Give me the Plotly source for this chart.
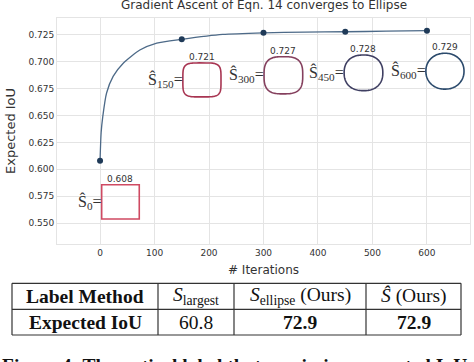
import numpy as np
import plotly.graph_objects as go

W, H = 474, 362

# ---------------- data ----------------
curve_iters = [0, 2, 5, 12, 24, 43, 73, 104, 150, 225, 300, 375, 450, 525, 600]
curve_iou = [0.608, 0.634, 0.649, 0.671, 0.6865, 0.699, 0.711, 0.7175, 0.721,
             0.7255, 0.727, 0.7277, 0.728, 0.7285, 0.729]
ckpt_iters = [0, 150, 300, 450, 600]
ckpt_iou = [0.608, 0.721, 0.727, 0.728, 0.729]
ckpt_labels = ["0", "150", "300", "450", "600"]

x_ticks = [0, 100, 200, 300, 400, 500, 600]
y_ticks = [0.550, 0.575, 0.600, 0.625, 0.650, 0.675, 0.700, 0.725]

title_text = "Gradient Ascent of Eqn. 14 converges to Ellipse"
x_title = "# Iterations"
y_title = "Expected IoU"

table_header = ["<b>Label Method</b>", "<i>S</i><sub>largest</sub>",
                "<i>S</i><sub>ellipse</sub> (Ours)", "<i>Ŝ</i> (Ours)"]
table_row = ["<b>Expected IoU</b>", "60.8", "<b>72.9</b>", "<b>72.9</b>"]
caption = "<b>Figure 4: Theoretical label that maximizes expected IoU</b>"

# ---------------- layout helpers ----------------
L, R, T, B = 57, 470, 18, 244          # plot area in px
X_RANGE = [-79, 679]
Y_RANGE = [0.5305, 0.7408]


def px(x):
    return x / W


def py(y):
    return 1 - y / H


fig = go.Figure()

fig.add_trace(go.Scatter(
    x=curve_iters, y=curve_iou, mode="lines",
    line=dict(color="#4d6a88", width=1.3, shape="spline", smoothing=0.6),
    hoverinfo="skip", showlegend=False))
fig.add_trace(go.Scatter(
    x=ckpt_iters, y=ckpt_iou, mode="markers",
    marker=dict(color="#1f3a58", size=6), showlegend=False))

# ---------------- shape glyphs (superellipses) ----------------
glyph_boxes = [
    (3, 72, 0.5538, 0.5857, None, "#cf4a62"),
    (152, 222, 0.6674, 0.6990, 4.5, "#a83552"),
    (301, 372, 0.6702, 0.7048, 3.0, "#85405e"),
    (448, 519, 0.6732, 0.7064, 2.3, "#3f3f62"),
    (598, 668, 0.6746, 0.7080, 2.1, "#2b4a6c"),
]

shapes = []
annotations = []
t = np.linspace(0, 2 * np.pi, 120)
for (x0, x1, y0, y1, n, col), lab, val in zip(glyph_boxes, ckpt_labels, ckpt_iou):
    cx, cy = (x0 + x1) / 2, (y0 + y1) / 2
    a, b = (x1 - x0) / 2, (y1 - y0) / 2
    if n is None:
        shapes.append(dict(type="rect", xref="x", yref="y", x0=x0, x1=x1, y0=y0, y1=y1,
                           line=dict(color=col, width=1.6)))
    else:
        ct, st = np.cos(t), np.sin(t)
        xs = cx + a * np.sign(ct) * np.abs(ct) ** (2 / n)
        ys = cy + b * np.sign(st) * np.abs(st) ** (2 / n)
        path = "M " + " L ".join(f"{u:.3f},{v:.5f}" for u, v in zip(xs, ys)) + " Z"
        shapes.append(dict(type="path", xref="x", yref="y", path=path,
                           line=dict(color=col, width=1.6)))
    annotations.append(dict(x=cx, y=y1, xref="x", yref="y", text=f"{val:.3f}",
                            showarrow=False, xanchor="center", yanchor="bottom", yshift=-1,
                            font=dict(family="DejaVu Sans", size=9, color="#333")))
    annotations.append(dict(x=x0, y=cy, xref="x", yref="y",
                            text=f"Ŝ<sub>{lab}</sub>=",
                            showarrow=False, xanchor="right", yanchor="middle", xshift=2,
                            font=dict(family="Liberation Serif", size=16, color="#333")))

# ---------------- titles ----------------
annotations.append(dict(x=px((L + R) / 2), y=py(5), xref="paper", yref="paper",
                        text=title_text, showarrow=False, xanchor="center", yanchor="middle",
                        font=dict(family="DejaVu Sans", size=12, color="#333")))
annotations.append(dict(x=px(10), y=py((T + B) / 2), xref="paper", yref="paper",
                        text=y_title, showarrow=False, textangle=-90,
                        xanchor="center", yanchor="middle",
                        font=dict(family="DejaVu Sans", size=13, color="#333")))
annotations.append(dict(x=px((L + R) / 2), y=py(270), xref="paper", yref="paper",
                        text=x_title, showarrow=False, xanchor="center", yanchor="middle",
                        font=dict(family="DejaVu Sans", size=12, color="#333")))

# ---------------- table ----------------
col_edges = [12, 158, 234, 366, 461]
row_edges = [283.3, 309.3, 335]
for yv in row_edges:
    shapes.append(dict(type="line", xref="paper", yref="paper",
                       x0=px(col_edges[0]), x1=px(col_edges[-1]), y0=py(yv), y1=py(yv),
                       line=dict(color="#333", width=1.2)))
for xv in col_edges:
    shapes.append(dict(type="line", xref="paper", yref="paper",
                       x0=px(xv), x1=px(xv), y0=py(row_edges[0]), y1=py(row_edges[-1]),
                       line=dict(color="#333", width=1.2)))
for r, row in enumerate([table_header, table_row]):
    yc = (row_edges[r] + row_edges[r + 1]) / 2
    for c, txt in enumerate(row):
        xc = (col_edges[c] + col_edges[c + 1]) / 2
        annotations.append(dict(x=px(xc), y=py(yc), xref="paper", yref="paper",
                                text=txt, showarrow=False, xanchor="center", yanchor="middle",
                                font=dict(family="Liberation Serif", size=19.5, color="#111")))

annotations.append(dict(x=px(0), y=py(353), xref="paper", yref="paper",
                        text=caption, showarrow=False, xanchor="left", yanchor="top",
                        font=dict(family="Liberation Serif", size=19.5, color="#111")))

fig.update_layout(
    width=W, height=H, margin=dict(l=0, r=0, t=0, b=0),
    paper_bgcolor="white", plot_bgcolor="white",
    shapes=shapes, annotations=annotations, showlegend=False,
    xaxis=dict(domain=[px(L), px(R)], range=X_RANGE, tickvals=x_ticks,
               showgrid=True, gridcolor="#e4e4e4", gridwidth=1, zeroline=False,
               showline=True, linecolor="#e4e4e4", mirror=True, ticks="",
               tickfont=dict(family="DejaVu Sans", size=9, color="#333")),
    yaxis=dict(domain=[py(B), py(T)], range=Y_RANGE, tickvals=y_ticks, tickformat=".3f",
               showgrid=True, gridcolor="#e4e4e4", gridwidth=1, zeroline=False,
               showline=True, linecolor="#e4e4e4", mirror=True, ticks="",
               tickfont=dict(family="DejaVu Sans", size=9, color="#333")),
)

fig.write_html("out.html", config={"displayModeBar": False},
               post_script="document.body.style.margin='0';")
